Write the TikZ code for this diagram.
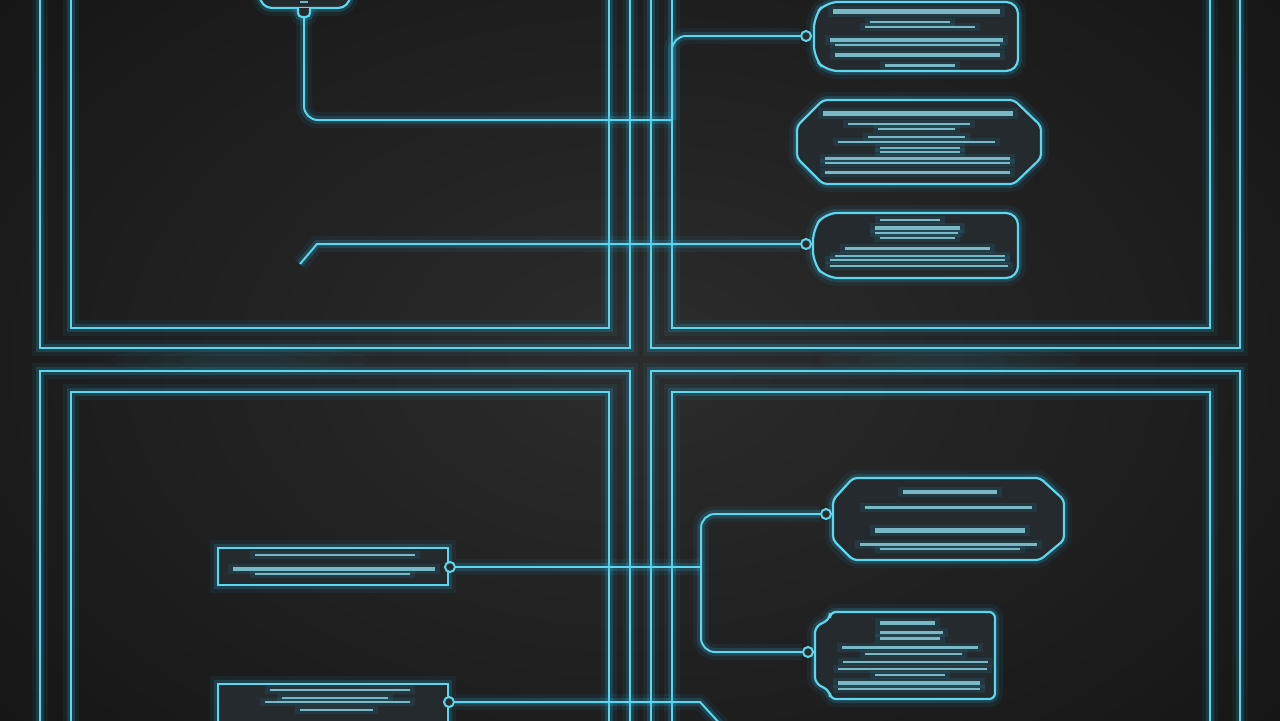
\documentclass[tikz,border=0pt]{standalone}
\definecolor{bgc}{RGB}{44,44,44}
\definecolor{bgd}{RGB}{22,22,22}
\definecolor{linec}{RGB}{92,215,238}
\definecolor{glowc}{RGB}{40,185,235}
\definecolor{textc}{RGB}{150,228,242}
\definecolor{boxfill}{RGB}{36,42,46}
\begin{document}
\begin{tikzpicture}[x=0.5pt,y=-0.5pt,
  glow/.style={preaction={draw=glowc,line width=8pt,opacity=0.07},preaction={draw=glowc,line width=4pt,opacity=0.18}},
  panel/.style={draw=linec,line width=1.3pt,glow},
  conn/.style={draw=linec,line width=1pt,glow},
  boxline/.style={draw=linec,line width=1.1pt,fill=boxfill,glow},
  port/.style={circle,draw=linec,line width=1pt,fill=bgc,minimum size=5pt,inner sep=0pt},
  tb/.style={fill=textc,opacity=0.75},
  tbglow/.style={fill=glowc,opacity=0.1},
]
\useasboundingbox (0,0) rectangle (1280,720);
\clip (0,0) rectangle (1280,720);
\shade[inner color=bgc, outer color=bgd] (-200,-200) rectangle (1480,920);
% soft glows on the panel edges
\foreach \r in {1,0.7,0.45}{
  \fill[glowc,opacity=0.035] (240,360) ellipse ({130*\r} and {14*\r});
  \fill[glowc,opacity=0.035] (950,360) ellipse ({130*\r} and {14*\r});
}
% panels
\draw[panel] (40,-20) rectangle (630,348);
\draw[panel] (71,-20) rectangle (609,328);
\draw[panel] (651,-20) rectangle (1240,348);
\draw[panel] (672,-20) rectangle (1210,328);
\draw[panel] (40,371) rectangle (630,740);
\draw[panel] (71,392) rectangle (609,740);
\draw[panel] (651,371) rectangle (1240,740);
\draw[panel] (672,392) rectangle (1210,740);
% top-left source box
\draw[boxline,rounded corners=6pt] (260,-12) rectangle (350,8);
\draw[boxline,rounded corners=2pt] (298,8) -- (298,17) -- (310,17) -- (310,8);
\fill[tb] (300,1) rectangle (308,3);
\coordinate (tabA) at (304,17);
\coordinate (bendA) at (672,120);
\coordinate (freeB) at (300,264);
\coordinate (junC) at (701,567);
\coordinate (freeE) at (722,726);
% boxes
\draw[boxline,rounded corners=6pt] (826,2) -- (1018,2) -- (1018,71) -- (826,71) -- (814,58) -- (814,16) -- cycle;
\draw[boxline,rounded corners=2pt] (823,100) -- (1014,100) -- (1041,126) -- (1041,158) -- (1014,184) -- (823,184) -- (797,158) -- (797,126) -- cycle;
\draw[boxline,rounded corners=6pt] (825,213) -- (1018,213) -- (1018,278) -- (826,278) -- (813,263) -- (813,229) -- cycle;
\draw[boxline,rounded corners=2pt] (853,478) -- (1040,478) -- (1064,500) -- (1064,540) -- (1040,560) -- (853,560) -- (833,540) -- (833,500) -- cycle;
\draw[boxline,rounded corners=3pt] (830,612) -- (995,612) -- (995,699) -- (830,699) -- (830,691) -- (815,683) -- (815,627) -- (830,619) -- cycle;
\draw[boxline] (218,548) rectangle (448,585);
\draw[boxline] (218,684) rectangle (448,730);
% ports
\node[port] (p1) at (806,36) {};
\node[port] (p3) at (806,244) {};
\node[port] (p4) at (826,514) {};
\node[port] (p5) at (808,652) {};
\node[port] (p6) at (450,567) {};
\node[port] (p7) at (449,702) {};
% connectors
\draw[conn,rounded corners=7pt] (tabA) |- (bendA);
\draw[conn,rounded corners=7pt] (bendA) |- (p1.west);
\draw[conn] (freeB) -- (317,244) -- (p3.west);
\draw[conn,rounded corners=7pt] (p4.west) -| (701,600) |- (p5.west);
\draw[conn] (p6.east) -- (junC);
\draw[conn] (p7.east) -- (700,702) -- (freeE);
% text lines (illegible in the reference)
\foreach \y/\a/\b/\h in {
 11/833/1000/5, 22/870/950/2, 27/865/975/1.5, 40/830/1003/4, 45/835/1000/1.5, 55/835/1000/4, 65/885/955/3,
 113/823/1013/5, 124/848/970/1.5, 129/878/955/2, 137/868/965/2, 142/838/995/1.5, 148/880/960/2, 152/880/960/1.5, 158/825/1010/3, 163/825/1010/2.5, 172/825/1010/3,
 220/880/940/1.5, 228/875/960/4, 233/875/958/2, 238/880/955/1.5, 248/845/990/3, 256/835/1005/2, 260/830/1005/1.5, 266/830/1008/2.5,
 492/903/997/4, 507/865/1032/3, 530/875/1025/5, 544/860/1037/3, 549/880/1020/1.5,
 623/880/935/4, 632/880/943/3, 638/880/940/3, 647/842/978/3, 654/865/962/1.5, 662/843/988/2.5, 669/838/987/2.5, 675/875/945/1.5, 683/838/980/4, 689/838/980/2,
 555/255/415/1.5, 569/233/435/3.5, 574/255/410/2,
 690/270/410/1.5, 698/282/388/2, 702/265/410/2.5, 710/300/373/2}
{
 \fill[tbglow] (\a-5,\y-\h/2-3) rectangle (\b+5,\y+\h/2+3);
 \fill[tb] (\a,\y-\h/2) rectangle (\b,\y+\h/2);
}
\end{tikzpicture}
\end{document}
